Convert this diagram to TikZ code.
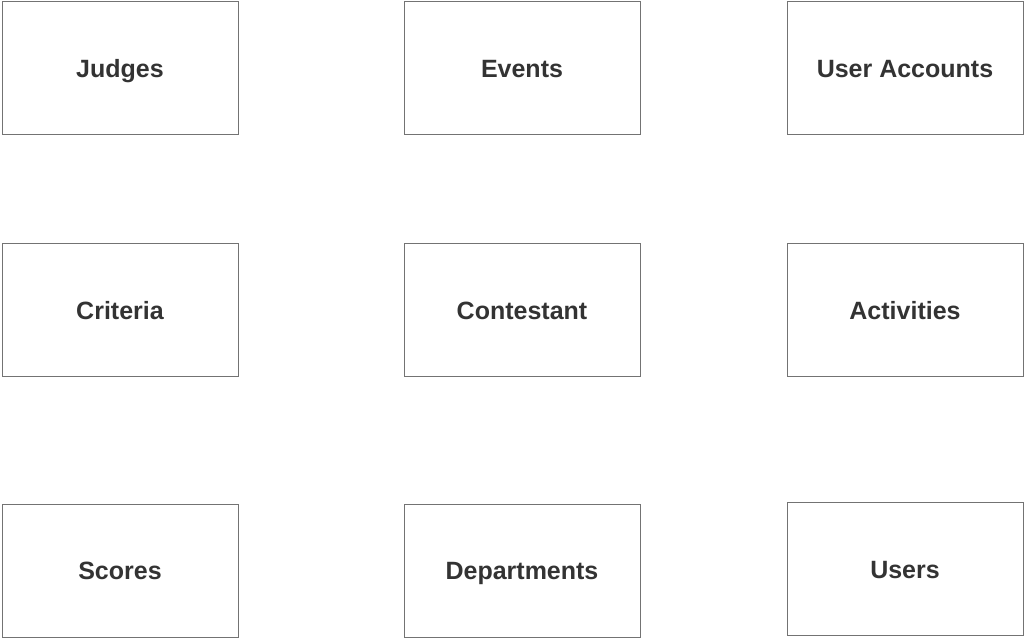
\documentclass[tikz,border=0pt]{standalone}
\usepackage{fontspec}
\setmainfont{Liberation Sans}
\begin{document}
\begin{tikzpicture}[x=1pt,y=1pt,
    entity/.style={draw=black!55,line width=1pt,minimum width=236pt,minimum height=133pt,
        inner sep=0pt,text height=18pt,text depth=0pt,text=black!80,
        font=\fontsize{25}{29}\selectfont\bfseries}]
        \useasboundingbox (0,0) rectangle (1024,638);
        \node[entity] (judges) at (120,569.5) {Judges};
        \node[entity] (events) at (522,569.5) {Events};
        \node[entity] (accounts) at (905,569.5) {User Accounts};
        \node[entity] (criteria) at (120,328) {Criteria};
        \node[entity] (contestant) at (522,328) {Contestant};
        \node[entity] (activities) at (905,328) {Activities};
        \node[entity] (scores) at (120,67.5) {Scores};
        \node[entity] (departments) at (522,67.5) {Departments};
        \node[entity] (users) at (905,69) {Users};
    \end{tikzpicture}
\end{document}
